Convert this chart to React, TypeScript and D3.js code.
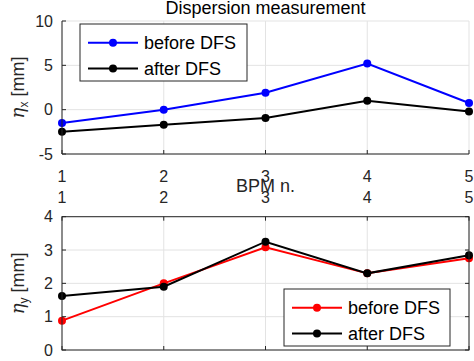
import React from 'react';
import * as d3 from 'd3';

const bpm = [1, 2, 3, 4, 5];
const etaXBefore = [-1.5, 0.0, 1.9, 5.2, 0.75];
const etaXAfter = [-2.5, -1.7, -0.95, 1.0, -0.2];
const etaYBefore = [0.88, 2.0, 3.08, 2.3, 2.75];
const etaYAfter = [1.62, 1.9, 3.25, 2.3, 2.84];
const xTicksTop = [-5, 0, 5, 10];
const yTicksBottom = [0, 1, 2, 3, 4];
const seriesNames = ['before DFS', 'after DFS'];

const W = 474, H = 361;
const FONT = '"Liberation Sans", Arial, Helvetica, sans-serif';
const AX = '#262626';
const GRID = '#e3e3e3';

const x = d3.scaleLinear().domain([1, 5]).range([62, 469]);
const yTop = d3.scaleLinear().domain([-5, 10]).range([154, 21]);
const yBot = d3.scaleLinear().domain([0, 4]).range([350, 216.7]);

type Ser = { vals: number[]; color: string };

function Lines({ series, y }: { series: Ser[]; y: d3.ScaleLinear<number, number> }) {
  const line = d3.line<number>().x((_, i) => x(bpm[i])).y(d => y(d));
  return (
    <g>
      {series.map((s, k) => (
        <g key={k}>
          <path d={line(s.vals) || ''} fill="none" stroke={s.color} strokeWidth={2} />
          {s.vals.map((v, i) => (
            <circle key={i} cx={x(bpm[i])} cy={y(v)} r={4} fill={s.color} />
          ))}
        </g>
      ))}
    </g>
  );
}

function Legend({ x0, y0, w, h, series, names }: { x0: number; y0: number; w: number; h: number; series: Ser[]; names: string[] }) {
  const rowH = h / 2.15;
  return (
    <g>
      <rect x={x0} y={y0} width={w} height={h} fill="#fff" stroke={AX} strokeWidth={1} />
      {series.map((s, k) => {
        const cy = y0 + h * (k === 0 ? 0.33 : 0.78);
        return (
          <g key={k}>
            <line x1={x0 + 8} x2={x0 + 58} y1={cy} y2={cy} stroke={s.color} strokeWidth={2} />
            <circle cx={x0 + 33} cy={cy} r={4} fill={s.color} />
            <text x={x0 + 64} y={cy} dy="0.35em" fontSize={18} fill="#000">{names[k]}</text>
          </g>
        );
      })}
      {rowH ? null : null}
    </g>
  );
}

export default function App() {
  const topSeries: Ser[] = [
    { vals: etaXBefore, color: '#0000ff' },
    { vals: etaXAfter, color: '#000000' },
  ];
  const botSeries: Ser[] = [
    { vals: etaYBefore, color: '#ff0000' },
    { vals: etaYAfter, color: '#000000' },
  ];
  const [x0, x1] = x.range();
  const tl = 4;

  return (
    <svg width={W} height={H} style={{ position: 'absolute', left: 0, top: 0, background: '#fff' }} fontFamily={FONT}>
      {/* top panel */}
      <g>
        {bpm.map(b => (
          <line key={'gx' + b} x1={x(b)} x2={x(b)} y1={yTop(10)} y2={yTop(-5)} stroke={GRID} />
        ))}
        {xTicksTop.map(t => (
          <line key={'gy' + t} x1={x0} x2={x1} y1={yTop(t)} y2={yTop(t)} stroke={GRID} />
        ))}
        <Lines series={topSeries} y={yTop} />
        <line x1={x0} x2={x0} y1={yTop(10)} y2={yTop(-5)} stroke={AX} />
        <line x1={x0} x2={x1} y1={yTop(-5)} y2={yTop(-5)} stroke={AX} />
        {xTicksTop.map(t => (
          <g key={'ty' + t}>
            <line x1={x0} x2={x0 + tl} y1={yTop(t)} y2={yTop(t)} stroke={AX} />
            <text x={53} y={yTop(t)} dy="0.36em" textAnchor="end" fontSize={16} fill={AX}>{t}</text>
          </g>
        ))}
        {bpm.map(b => (
          <g key={'tx' + b}>
            <line x1={x(b)} x2={x(b)} y1={yTop(-5)} y2={yTop(-5) - tl} stroke={AX} />
            <text x={x(b)} y={182} textAnchor="middle" fontSize={16} fill={AX}>{b}</text>
          </g>
        ))}
        <text x={(x0 + x1) / 2} y={192} textAnchor="middle" fontSize={18} fill={AX}>BPM n.</text>
        <text x={(x0 + x1) / 2} y={14} textAnchor="middle" fontSize={18} fill="#000">Dispersion measurement</text>
        <text transform={`translate(24,${(yTop(10) + yTop(-5)) / 2}) rotate(-90)`} textAnchor="middle" fontSize={18} fill={AX}>
          <tspan fontStyle="italic" fontFamily='"DejaVu Serif", serif'>η</tspan>
          <tspan fontSize={12} dy={4}>x</tspan>
          <tspan dy={-4}> [mm]</tspan>
        </text>
        <Legend x0={80} y0={24} w={167} h={57} series={topSeries} names={seriesNames} />
      </g>

      {/* bottom panel */}
      <g>
        {bpm.map(b => (
          <line key={'bgx' + b} x1={x(b)} x2={x(b)} y1={yBot(4)} y2={yBot(0)} stroke={GRID} />
        ))}
        {yTicksBottom.map(t => (
          <line key={'bgy' + t} x1={x0} x2={x1} y1={yBot(t)} y2={yBot(t)} stroke={GRID} />
        ))}
        <Lines series={botSeries} y={yBot} />
        <rect x={x0} y={yBot(4)} width={x1 - x0} height={yBot(0) - yBot(4)} fill="none" stroke={AX} />
        {yTicksBottom.map(t => (
          <g key={'bty' + t}>
            <line x1={x0} x2={x0 + tl} y1={yBot(t)} y2={yBot(t)} stroke={AX} />
            <line x1={x1} x2={x1 - tl} y1={yBot(t)} y2={yBot(t)} stroke={AX} />
            <text x={53} y={yBot(t)} dy="0.36em" textAnchor="end" fontSize={16} fill={AX}>{t}</text>
          </g>
        ))}
        {bpm.map(b => (
          <g key={'btx' + b}>
            <line x1={x(b)} x2={x(b)} y1={yBot(4)} y2={yBot(4) + tl} stroke={AX} />
            <line x1={x(b)} x2={x(b)} y1={yBot(0)} y2={yBot(0) - tl} stroke={AX} />
            <text x={x(b)} y={203} textAnchor="middle" fontSize={16} fill={AX}>{b}</text>
          </g>
        ))}
        <text transform={`translate(24,${(yBot(4) + yBot(0)) / 2}) rotate(-90)`} textAnchor="middle" fontSize={18} fill={AX}>
          <tspan fontStyle="italic" fontFamily='"DejaVu Serif", serif'>η</tspan>
          <tspan fontSize={12} dy={4}>y</tspan>
          <tspan dy={-4}> [mm]</tspan>
        </text>
        <Legend x0={284} y0={289} w={166} h={57} series={botSeries} names={seriesNames} />
      </g>
    </svg>
  );
}
